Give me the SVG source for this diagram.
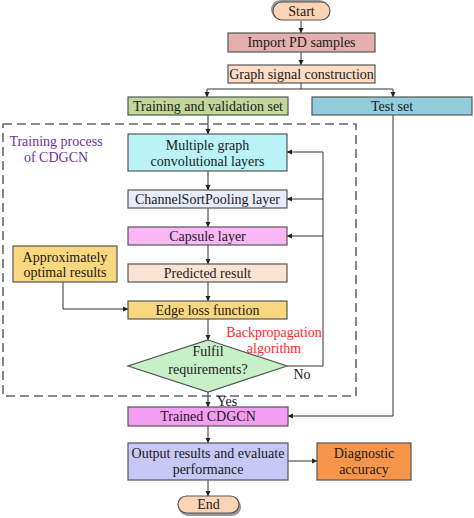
<svg xmlns="http://www.w3.org/2000/svg" width="474" height="518" viewBox="0 0 474 518" font-family="Liberation Serif, DejaVu Serif, serif">
<defs>
<marker id="ah" markerWidth="6" markerHeight="6" refX="5" refY="3" orient="auto" markerUnits="userSpaceOnUse">
<path d="M0,0.5 L5.5,3 L0,5.5 Z" fill="#222"/>
</marker>
</defs>
<style>
text{font-size:14px;fill:#1a1a1a;text-anchor:middle}
.b{stroke:#555;stroke-width:1.2}
.c{fill:none;stroke:#333;stroke-width:1}
.a{marker-end:url(#ah)}
</style>
<rect width="474" height="518" fill="#fff"/>
<g id="frame">
<rect x="3" y="124" width="353" height="272" fill="none" stroke="#666" stroke-width="1.6" stroke-dasharray="9,5"/>
<text x="56" y="146" font-family="Liberation Serif" style="fill:#7030A0">Training process</text>
<text x="56" y="162" style="fill:#7030A0">of CDGCN</text>
</g>
<g id="connectors">
<path class="c a" d="M301,21 V33"/>
<path class="c a" d="M301,52 V65"/>
<path class="c" d="M301,83 V89 M207,89 H393"/>
<path class="c a" d="M207,89 V97"/>
<path class="c a" d="M393,89 V97"/>
<path class="c a" d="M208,115 V134"/>
<path class="c a" d="M208,171 V190"/>
<path class="c a" d="M208,208 V227"/>
<path class="c a" d="M208,245 V264"/>
<path class="c a" d="M208,282 V301"/>
<path class="c a" d="M63,282 V309 H128"/>
<path class="c a" d="M208,319 V340"/>
<path class="c" d="M287,366 H323 V152"/>
<path class="c a" d="M323,152 H287"/>
<path class="c a" d="M323,199 H287"/>
<path class="c a" d="M323,236 H287"/>
<path class="c a" d="M208,392 V407"/>
<path class="c a" d="M393,115 V416 H288"/>
<path class="c a" d="M208,426 V443"/>
<path class="c a" d="M288,461 H317"/>
<path class="c a" d="M208,480 V496"/>
<text x="274" y="337" style="fill:#FF2A2A">Backpropagation</text>
<text x="274" y="353" style="fill:#FF2A2A">algorithm</text>
<text x="302" y="379">No</text>
<text x="227" y="406">Yes</text>
</g>
<g id="start">
<rect x="271" y="0" width="58" height="19" rx="9.5" fill="#999"/>
<rect class="b" x="273" y="2" width="57" height="18" rx="9" fill="#FAD4B4"/>
<text x="301.5" y="16">Start</text>
</g>
<g id="import">
<rect class="b" x="228" y="33" width="147" height="19" fill="#E6AFAF"/>
<text x="301.5" y="47">Import PD samples</text>
</g>
<g id="graph">
<rect class="b" x="228" y="65" width="147" height="18" fill="#FCDCC4"/>
<text x="301.5" y="79">Graph signal construction</text>
</g>
<g id="train">
<rect class="b" x="128" y="97" width="160" height="18" fill="#C4D79B"/>
<text x="208" y="111">Training and validation set</text>
</g>
<g id="test">
<rect class="b" x="312" y="97" width="160" height="18" fill="#92CDDC"/>
<text x="392" y="111">Test set</text>
</g>
<g id="mgcl">
<rect class="b" x="128" y="134" width="159" height="37" fill="#B9F3F7"/>
<text x="207.5" y="150">Multiple graph</text>
<text x="207.5" y="166">convolutional layers</text>
</g>
<g id="csp">
<rect class="b" x="128" y="190" width="159" height="18" fill="#E8ECF9"/>
<text x="207.5" y="204">ChannelSortPooling layer</text>
</g>
<g id="capsule">
<rect class="b" x="128" y="227" width="159" height="18" fill="#F9B8F5"/>
<text x="207.5" y="241">Capsule layer</text>
</g>
<g id="predicted">
<rect class="b" x="128" y="264" width="159" height="18" fill="#FBE3D3"/>
<text x="207.5" y="278">Predicted result</text>
</g>
<g id="approx">
<rect class="b" x="13" y="246" width="104" height="36" fill="#F9D77E"/>
<text x="65" y="262">Approximately</text>
<text x="65" y="277">optimal results</text>
</g>
<g id="edge">
<rect class="b" x="128" y="301" width="159" height="18" fill="#F9D77E"/>
<text x="207.5" y="315">Edge loss function</text>
</g>
<g id="fulfil">
<polygon class="b" points="208,340 287,366 208,392 128,366" fill="#C8F0C8"/>
<text x="208" y="356">Fulfil</text>
<text x="208" y="374">requirements?</text>
</g>
<g id="trained">
<rect class="b" x="128" y="407" width="160" height="19" fill="#F49EF3"/>
<text x="208" y="421">Trained CDGCN</text>
</g>
<g id="output">
<rect class="b" x="128" y="443" width="160" height="37" fill="#C8C8F6"/>
<text x="208" y="458">Output results and evaluate</text>
<text x="208" y="474">performance</text>
</g>
<g id="diag">
<rect class="b" x="317" y="443" width="94" height="37" fill="#F7964A"/>
<text x="364" y="458">Diagnostic</text>
<text x="364" y="474">accuracy</text>
</g>
<g id="end">
<rect x="179" y="498" width="62" height="18" rx="9" fill="#999"/>
<rect class="b" x="178" y="496" width="61" height="17" rx="8.5" fill="#FAD4B4"/>
<text x="208.5" y="509">End</text>
</g>
</svg>
